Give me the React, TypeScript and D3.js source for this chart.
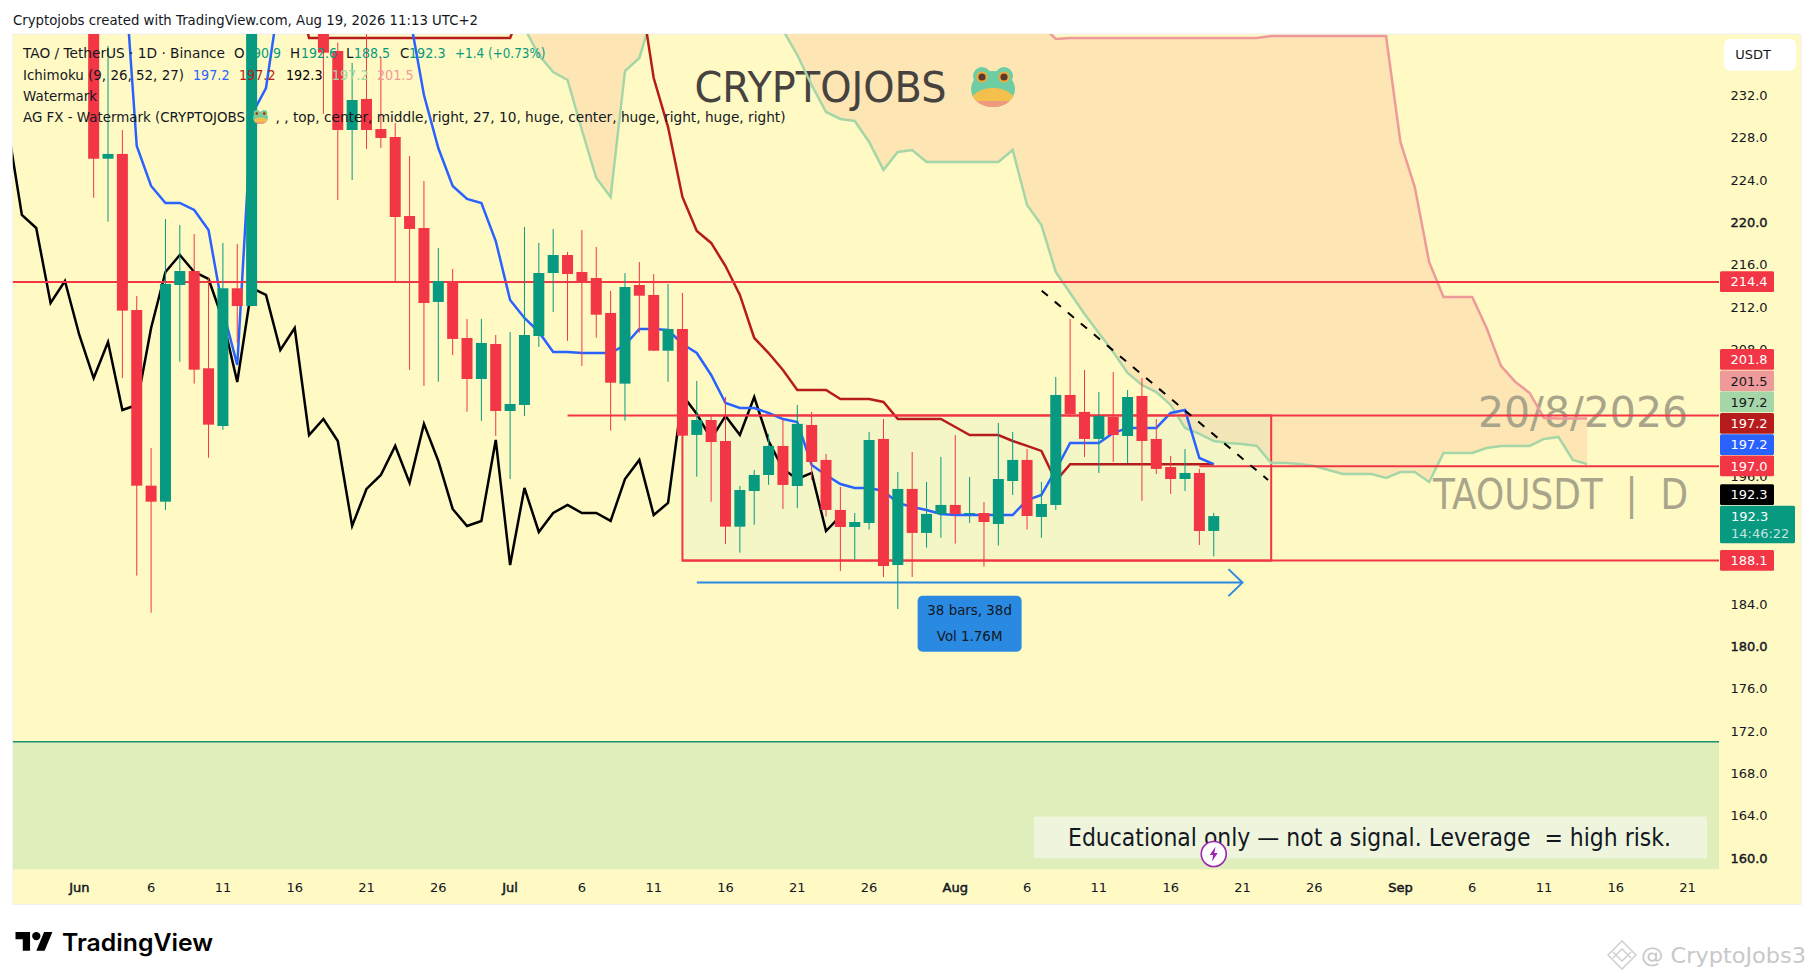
import * as d3 from 'd3';

const WIDTH = 1814;
const HEIGHT = 980;
// pane geometry, in px of the screenshot
const PANE = { left: 12.7, right: 1801, top: 34, bottom: 904.5 };
const PLOT = { right: 1719, bottom: 869.5 };

const RED = '#F23645';
const GREEN = '#089981';
const BLUE = '#2962FF';
const DARK_RED = '#B71C1C';
const SPAN_A = '#A5D6A7';
const SPAN_B = '#EF9A9A';
const INK = '#131722';
const RULER = '#2A8AE2';
const FONT = "'DejaVu Sans', sans-serif";

// daily candles, first one is 2 Jun 2026. Jun 14-17 sit above the visible range.
const CANDLES_START = '2026-06-02';
const OPENS = [
  246, 226.03, 226.48, 211.75, 195.17, 193.66, 214.11, 215.43, 206.25, 200.8, 213.8, 212.13,
  246, 249, 250, 247,
  244, 236.2, 228.74, 231.67, 228.83, 228.08, 220.62, 219.49, 212.51, 214.49, 209.11, 205.24, 208.54,
  202.22, 202.79, 209.3, 215.24, 216.94, 215.34, 214.77, 211.47, 204.8, 214.11, 213.17, 207.91, 209.96,
  199.96, 201.37, 199.39, 191.3, 194.67, 196.18, 198.92, 195.14, 200.9, 197.6, 192.88, 191.27, 191.65,
  199.58, 187.68, 194.86, 190.71, 192.5, 193.35, 192.5, 192.59, 191.55, 195.61, 197.6, 192.22, 193.35,
  203.73, 202.13, 199.58, 201.65, 199.86, 203.64, 199.58, 196.93, 195.8, 196.37, 190.9,
];
const HIGHS = [
  250, 236.67, 228.74, 213.07, 198.73, 220.34, 219.77, 218.92, 214.77, 218.08, 217.98, 250,
  252, 254, 255, 252,
  246, 237, 235.06, 240, 235.63, 229.4, 226.29, 223.93, 217.6, 215.62, 210.9, 210.9, 209.39,
  209.68, 219.59, 218.08, 219.4, 217.23, 219.3, 217.7, 213.55, 215.24, 216.28, 215.15, 214.21, 213.36,
  205.05, 201.84, 203.54, 195.14, 196.65, 200.05, 201.44, 202.79, 202.13, 198.16, 195.05, 192.59, 200.24,
  201.46, 196.46, 198.35, 195.52, 197.88, 199.95, 195.99, 193.63, 201.09, 200.24, 198.63, 195.52, 205.43,
  210.9, 206.09, 204.01, 205.9, 204.2, 205.33, 201.46, 197.97, 198.63, 196.75, 192.6,
];
const LOWS = [
  222.35, 220.09, 205.33, 186.68, 183.18, 192.88, 206.87, 204.8, 197.81, 200.43, 208.64, 212.1,
  241, 245, 244, 241,
  230.25, 222.13, 224.02, 226.95, 227.04, 214.3, 206.09, 204.58, 204.98, 207.5, 202.15, 201.28, 199.86,
  195.8, 201.75, 208.26, 211.56, 208.83, 206.47, 209.14, 200.36, 201.3, 209.61, 207.88, 204.98, 199.86,
  196.02, 193.66, 189.67, 188.85, 191.49, 195.24, 192.97, 193.06, 195.71, 192.25, 187.12, 188.16, 191.03,
  186.55, 183.53, 186.55, 189.32, 190.26, 189.7, 191.65, 187.53, 189.51, 194.29, 191.03, 190.26, 192.88,
  201.65, 197.88, 196.37, 197.41, 197.31, 193.73, 196.27, 194.39, 194.67, 189.57, 188.5,
];
const CLOSES = [
  226.03, 226.48, 211.69, 195.17, 193.66, 214.21, 215.43, 206.12, 200.93, 213.8, 212.13, 246,
  249, 250, 247, 244,
  236.04, 228.74, 231.57, 228.74, 227.99, 220.53, 219.4, 212.41, 214.49, 209.02, 205.24, 208.64, 202.22,
  202.88, 209.39, 215.24, 216.94, 215.15, 214.49, 211.31, 204.89, 213.92, 213.1, 207.91, 209.96, 199.89,
  201.37, 199.29, 191.3, 194.76, 196.18, 198.92, 195.24, 201, 197.41, 192.88, 191.27, 191.74, 199.48,
  187.59, 194.86, 190.71, 192.5, 193.35, 192.5, 192.59, 191.74, 195.8, 197.6, 192.31, 193.44, 203.73,
  201.94, 199.58, 201.75, 199.95, 203.54, 199.39, 196.75, 195.8, 196.37, 190.89, 192.3,
];

// ichimoku lines
const TENKAN_START = '2026-06-04';
const TENKAN = [
  246.67, 227.23, 223.46, 221.85, 221.85, 221.19, 219.3, 211.75, 206.56, 230.16, 232.7, 241.86,
  255, 255, 255, 255, 255, 255, 255, 255,
  239.59, 232.04, 227.04, 223.46, 222.23, 221.85, 218.26, 212.7, 211, 209.68, 207.79, 207.79, 207.69,
  207.69, 207.69, 208.45, 209.96, 209.96, 209.86, 208.54, 207.69, 205.62, 202.97, 202.5, 202.5, 202.03,
  201.46, 201.18, 197.12, 196.18, 195.33, 194.95, 194.95, 194.67, 193.54, 193.16, 192.88, 192.5, 192.4,
  192.4, 192.4, 192.4, 192.4, 193.82, 194.29, 196.65, 199.2, 199.2, 199.2, 200.14, 200.62, 200.62, 200.62,
  202.03, 202.31, 197.78, 197.2,
];
const KIJUN_START = '2026-06-16';
const KIJUN = [
  242.9, 237.42, 237.42, 237.42, 237.42, 237.42, 237.42, 237.42, 237.42, 237.42, 237.42, 237.42, 237.42,
  237.42, 237.42, 237.42, 241.01, 250, 250, 250, 250, 250, 250, 250, 242.43, 233.65, 229.02, 222.42,
  219.21, 218.08, 215.9, 213.17, 209.11, 207.69, 206.09, 204.2, 204.2, 204.2, 203.35, 203.35, 203.35,
  203.07, 201.46, 201.46, 201.46, 201.46, 200.71, 199.95, 199.95, 199.95, 199.39, 198.92, 198.45, 195.61,
  197.2, 197.2, 197.2, 197.2, 197.2, 197.2, 197.2, 197.2, 197.2, 197.2, 197.2,
];
const CHIKOU_START = '2026-05-27';
const CHIKOU = [
  229.21, 220.72, 219.49, 212.41, 214.49, 209.39, 205.33, 208.73, 202.31, 202.79, 210.05, 215.34, 216.94,
  215.34, 214.68, 210.81, 204.96, 213.83, 213.17, 207.98, 210.05, 199.95, 201.46, 199.39, 191.37, 194.86,
  196.18, 198.92, 195.43, 201, 197.5, 192.97, 191.37, 191.84, 199.48, 187.68, 194.95, 190.8, 192.59,
  193.35, 192.59, 192.59, 191.84, 195.8, 197.6, 192.4, 193.54, 203.73, 201.94, 199.58, 201.75, 199.95,
  203.54, 199.39, 196.75, 195.8, 196.37, 190.89, 192.3,
];
// both spans start 1 Jul; they leave the visible range at the top for long stretches
const SPAN_START = '2026-07-01';
const SPAN_A_VALUES = [
  241.95, 238.37, 235.82, 234.21, 233.46, 228.74, 224.21, 222.42, 234.31, 235.54, 240.07,
  255, 255, 255, 255, 255, 255, 255,
  242.9, 238.18, 235.82, 232.99, 230.44, 229.78, 229.59, 227.61, 224.97, 226.66, 226.85, 225.72,
  225.72, 225.72, 225.72, 225.72, 225.72, 226.85, 221.66, 219.77, 215.34, 213.36, 211.37, 209.58, 207.79,
  205.81, 204.67, 204.01, 202.79, 200.62, 200.05, 199.39, 199.2, 199.1, 198.92, 197.31, 197.31, 197.22,
  197.03, 196.65, 196.27, 196.27, 196.27, 195.9, 196.46, 196.46, 195.52, 198.26, 198.26, 198.26, 198.73,
  198.92, 198.92, 198.92, 199.58, 199.77, 197.6, 197.2,
];
const SPAN_B_VALUES = [
  248, 248, 248, 248, 248, 248, 248, 248, 248, 248, 248, 248, 248, 248, 248, 248, 248, 248, 248,
  248, 248, 248, 248, 248, 248, 248, 248, 248, 248, 248, 248, 248, 248, 248, 248, 248, 248,
  238.65, 237.33, 237.42, 237.42, 237.42, 237.42, 237.42, 237.42, 237.42, 237.42, 237.42, 237.42, 237.42,
  237.42, 237.42, 237.42, 237.61, 237.61, 237.61, 237.61, 237.61, 237.61, 237.61, 237.61, 237.61, 227.61, 223.36,
  216.28, 212.98, 212.98, 212.98, 210.05, 206.47, 204.96, 203.92, 201.56, 201.5, 201.5, 201.5,
];

// drawings
const LEVEL_PRICES = [214.4, 201.8, 197.0, 188.1];
const LEVEL_STARTS = [null, '2026-07-05', '2026-08-18', '2026-07-13'];
const RANGE_BOX_DATES = ['2026-07-13', '2026-08-23'];
const RANGE_BOX_PRICES = [201.8, 188.1];
const RULER_DATES = ['2026-07-14', '2026-08-21'];
const RULER_PRICE = 186.02;
const TREND_DATES = ['2026-08-07T00:30:00Z', '2026-08-22T18:45:00Z'];
const TREND_PRICES = [213.57, 195.71];
const DEMAND_TOP = 171;

// axes: 204, 200, 192 and 188 are hidden behind the price labels in the picture
const PRICE_TICKS = [232, 228, 224, 220, 216, 212, 208, 196, 184, 180, 176, 172, 168, 164, 160];
const STRONG_PRICE_TICKS = [220, 180, 160];
const TIME_TICK_DATES = [
  '2026-06-01', '2026-06-06', '2026-06-11', '2026-06-16', '2026-06-21', '2026-06-26',
  '2026-07-01', '2026-07-06', '2026-07-11', '2026-07-16', '2026-07-21', '2026-07-26',
  '2026-08-01', '2026-08-06', '2026-08-11', '2026-08-16', '2026-08-21', '2026-08-26',
  '2026-09-01', '2026-09-06', '2026-09-11', '2026-09-16', '2026-09-21',
];
const MONTH_NAMES = ['Jun', 'Jul', 'Aug', 'Sep'];

const AXIS_LABEL_TEXTS = ['214.4', '201.8', '201.5', '197.2', '197.2', '197.2', '197.0', '192.3', '188.1'];
const AXIS_LABEL_FILLS = [RED, RED, SPAN_B, SPAN_A, DARK_RED, BLUE, RED, '#000000', RED];
const AXIS_LABEL_INKS = ['#fff', '#fff', INK, INK, '#fff', '#fff', '#fff', '#fff', '#fff'];
const AXIS_LABEL_TOPS = [271.3, 349, 370.5, 391.5, 413, 434.2, 455.5, 484.3, 550];

const day = (s: string) => {
  const t = s.includes('T') ? s : `${s}T00:00:00Z`;
  return new Date(t);
};

const xScale = d3.scaleUtc().domain([day('2026-06-01'), day('2026-09-21')]).range([79.3, 79.3 + 112 * 14.36]);
const yScale = d3.scaleLinear().domain([160, 232]).range([858.3, 95.46]);

const dated = (start: string, values: number[]) =>
  values.map((v, i) => ({ date: d3.utcDay.offset(day(start), i), value: v }));

const linePath = d3
  .line<{ date: Date; value: number }>()
  .x((d) => xScale(d.date))
  .y((d) => yScale(d.value));

const cloudPath = d3
  .area<{ date: Date; a: number; b: number }>()
  .x((d) => xScale(d.date))
  .y0((d) => yScale(d.b))
  .y1((d) => yScale(d.a));

const Frog = ({ x, y, w, h }: { x: number; y: number; w: number; h: number }) => (
  <g transform={`translate(${x},${y}) scale(${w / 44},${h / 40})`}>
    <clipPath id={`frog-${w}`}>
      <ellipse cx={22} cy={23} rx={22} ry={17} />
    </clipPath>
    <ellipse cx={22} cy={22} rx={22} ry={18} fill="#6FCDA4" />
    <circle cx={11} cy={9} r={9} fill="#6FCDA4" />
    <circle cx={33} cy={9} r={9} fill="#6FCDA4" />
    <circle cx={11} cy={10} r={5.6} fill="#F2A93B" />
    <circle cx={33} cy={10} r={5.6} fill="#F2A93B" />
    <circle cx={11} cy={10} r={3.6} fill="#5A3A2E" />
    <circle cx={33} cy={10} r={3.6} fill="#5A3A2E" />
    <g clipPath={`url(#frog-${w})`}>
      <ellipse cx={22} cy={38} rx={24} ry={17} fill="#F4C04C" />
      <rect x={0} y={34} width={44} height={6} fill="#EF9A7E" />
    </g>
  </g>
);

const LegendText = ({
  x,
  y,
  fill = INK,
  length,
  children,
}: {
  x: number;
  y: number;
  fill?: string;
  length?: number;
  children: any;
}) => (
  <text
    x={x}
    y={y}
    fill={fill}
    fontSize={13.4}
    fontFamily={FONT}
    dominantBaseline="central"
    xmlSpace="preserve"
    textLength={length}
    lengthAdjust={length ? 'spacingAndGlyphs' : undefined}
  >
    {children}
  </text>
);

const App = () => {
  const candles = OPENS.map((open, i) => ({
    date: d3.utcDay.offset(day(CANDLES_START), i),
    open,
    high: HIGHS[i],
    low: LOWS[i],
    close: CLOSES[i],
  }));
  const spanA = dated(SPAN_START, SPAN_A_VALUES);
  const spanB = dated(SPAN_START, SPAN_B_VALUES);
  const cloud = spanA.map((d, i) => ({ date: d.date, a: d.value, b: spanB[i].value }));

  const bodyWidth = 11;
  const rightEdge = PLOT.right;
  const boxX0 = xScale(day(RANGE_BOX_DATES[0]));
  const boxX1 = xScale(day(RANGE_BOX_DATES[1]));
  const rulerX0 = xScale(day(RULER_DATES[0]));
  const rulerX1 = xScale(day(RULER_DATES[1]));
  const rulerY = yScale(RULER_PRICE);
  const rulerMid = (rulerX0 + rulerX1) / 2;

  return (
    <svg
      width={WIDTH}
      height={HEIGHT}
      style={{ position: 'absolute', left: 0, top: 0, display: 'block', background: '#fff' }}
    >
      <defs>
        <clipPath id="plot">
          <rect x={PANE.left} y={PANE.top} width={rightEdge - PANE.left} height={PLOT.bottom - PANE.top} />
        </clipPath>
      </defs>

      <text x={13} y={20} fontSize={13.2} fontFamily={FONT} fill={INK} dominantBaseline="central" textLength={465} lengthAdjust="spacingAndGlyphs">
        Cryptojobs created with TradingView.com, Aug 19, 2026 11:13 UTC+2
      </text>

      <rect
        x={PANE.left}
        y={PANE.top}
        width={PANE.right - PANE.left}
        height={PANE.bottom - PANE.top}
        fill="#FFF9C4"
        stroke="#F0F0F0"
      />

      <g clipPath="url(#plot)">
        <rect
          x={PANE.left}
          y={yScale(DEMAND_TOP)}
          width={rightEdge - PANE.left}
          height={PLOT.bottom - yScale(DEMAND_TOP)}
          fill="#E0EEBC"
        />
        <line x1={PANE.left} x2={rightEdge} y1={yScale(DEMAND_TOP)} y2={yScale(DEMAND_TOP)} stroke="#1F8F6F" strokeWidth={1.5} />

        <path d={cloudPath(cloud) ?? ''} fill="#FDE5B4" />

        <text x={694.5} y={87.5} fontSize={42} fontFamily={FONT} fill="#46423F" dominantBaseline="central" textLength={252} lengthAdjust="spacingAndGlyphs">
          CRYPTOJOBS
        </text>
        <text x={1478} y={412} fontSize={43} fontFamily={FONT} fill="#A9A58B" dominantBaseline="central" textLength={210} lengthAdjust="spacingAndGlyphs">
          20/8/2026
        </text>
        <text x={1433} y={494} fontSize={42} fontFamily={FONT} fill="#A9A58B" dominantBaseline="central" xmlSpace="preserve" textLength={255} lengthAdjust="spacingAndGlyphs">
          TAOUSDT  |  D
        </text>

        <rect
          x={boxX0}
          y={yScale(RANGE_BOX_PRICES[0])}
          width={boxX1 - boxX0}
          height={yScale(RANGE_BOX_PRICES[1]) - yScale(RANGE_BOX_PRICES[0])}
          fill="#C8EACE"
          fillOpacity={0.2}
          stroke={RED}
          strokeWidth={2}
        />

        <path d={linePath(spanA) ?? ''} fill="none" stroke={SPAN_A} strokeWidth={2.5} />
        <path d={linePath(spanB) ?? ''} fill="none" stroke={SPAN_B} strokeWidth={2.5} />
        <path d={linePath(dated(CHIKOU_START, CHIKOU)) ?? ''} fill="none" stroke="#000" strokeWidth={2.5} />
        <path d={linePath(dated(KIJUN_START, KIJUN)) ?? ''} fill="none" stroke={DARK_RED} strokeWidth={2.5} />
        <path d={linePath(dated(TENKAN_START, TENKAN)) ?? ''} fill="none" stroke={BLUE} strokeWidth={2.5} />

        {LEVEL_PRICES.map((p, i) => {
          const start = LEVEL_STARTS[i];
          return (
            <line
              key={p}
              x1={start ? xScale(day(start)) : PANE.left}
              x2={rightEdge}
              y1={yScale(p)}
              y2={yScale(p)}
              stroke={RED}
              strokeWidth={2}
            />
          );
        })}

        <line
          x1={xScale(day(TREND_DATES[0]))}
          y1={yScale(TREND_PRICES[0])}
          x2={xScale(day(TREND_DATES[1]))}
          y2={yScale(TREND_PRICES[1])}
          stroke="#000"
          strokeWidth={2}
          strokeDasharray="8 9"
        />

        <line x1={rulerX0} x2={rulerX1} y1={rulerY} y2={rulerY} stroke={RULER} strokeWidth={2} />
        <path
          d={`M${rulerX1 - 14},${rulerY - 13.5}L${rulerX1},${rulerY}L${rulerX1 - 14},${rulerY + 13.5}`}
          fill="none"
          stroke={RULER}
          strokeWidth={2}
        />

        {candles.map((c, i) => {
          const x = xScale(c.date);
          const color = c.close >= c.open ? GREEN : RED;
          const top = yScale(Math.max(c.open, c.close));
          const bottom = yScale(Math.min(c.open, c.close));
          return (
            <g key={i}>
              <line x1={x} x2={x} y1={yScale(c.high)} y2={yScale(c.low)} stroke={color} strokeWidth={1} />
              <rect x={x - bodyWidth / 2} y={top} width={bodyWidth} height={Math.max(bottom - top, 1)} fill={color} />
            </g>
          );
        })}

        <rect x={rulerMid - 52} y={595.7} width={104} height={56} rx={5} fill={RULER} />
        <text x={rulerMid} y={610.7} textAnchor="middle" dominantBaseline="central" fontSize={13.4} fontFamily={FONT} fill={INK}>
          38 bars, 38d
        </text>
        <text x={rulerMid} y={636.7} textAnchor="middle" dominantBaseline="central" fontSize={13.4} fontFamily={FONT} fill={INK}>
          Vol 1.76M
        </text>

        <rect x={1034} y={816.7} width={673} height={41.5} fill="#EEF5DC" />
        <text x={1068} y={838} fontSize={24} fontFamily={FONT} fill={INK} dominantBaseline="central" xmlSpace="preserve" textLength={603} lengthAdjust="spacingAndGlyphs">
          Educational only — not a signal. Leverage  = high risk.
        </text>
      </g>

      {/* lightning mark for the latest bar */}
      <circle cx={xScale(day('2026-08-19'))} cy={854} r={12.5} fill="#fff" stroke="#9C27B0" strokeWidth={1.6} />
      <path
        transform={`translate(${xScale(day('2026-08-19'))},854)`}
        d="M1.8,-7.5L-4,1L-0.6,1L-1.8,7.5L4,-1L0.6,-1Z"
        fill="#9C27B0"
      />

      {/* legend */}
      <LegendText x={23} y={53.5} length={202}>TAO / TetherUS · 1D · Binance</LegendText>
      <LegendText x={234} y={53.5}>O</LegendText>
      <LegendText x={245} y={53.5} fill={GREEN} length={36}>190.9</LegendText>
      <LegendText x={290} y={53.5}>H</LegendText>
      <LegendText x={301} y={53.5} fill={GREEN} length={36}>192.6</LegendText>
      <LegendText x={346} y={53.5}>L</LegendText>
      <LegendText x={354} y={53.5} fill={GREEN} length={36}>188.5</LegendText>
      <LegendText x={400} y={53.5}>C</LegendText>
      <LegendText x={409} y={53.5} fill={GREEN} length={36.5}>192.3</LegendText>
      <LegendText x={455} y={53.5} fill={GREEN} length={90.5}>+1.4 (+0.73%)</LegendText>
      <LegendText x={23} y={75} length={161}>Ichimoku (9, 26, 52, 27)</LegendText>
      <LegendText x={193} y={75} fill={BLUE} length={36.5}>197.2</LegendText>
      <LegendText x={239} y={75} fill={DARK_RED} length={36.5}>197.2</LegendText>
      <LegendText x={286} y={75} fill="#000" length={36.5}>192.3</LegendText>
      <LegendText x={332} y={75} fill={SPAN_A} length={36.5}>197.2</LegendText>
      <LegendText x={377} y={75} fill={SPAN_B} length={36.5}>201.5</LegendText>
      <LegendText x={23} y={96} length={74}>Watermark</LegendText>
      <LegendText x={23} y={117} length={222}>AG FX - Watermark (CRYPTOJOBS</LegendText>
      <Frog x={253} y={110} w={15} h={14} />
      <LegendText x={275.5} y={117} length={510}>, , top, center, middle, right, 27, 10, huge, center, huge, right, huge, right)</LegendText>

      <Frog x={971} y={67} w={44} h={40} />

      {/* price axis */}
      {PRICE_TICKS.map((t) => (
        <text
          key={t}
          x={1749}
          y={yScale(t)}
          textAnchor="middle"
          dominantBaseline="central"
          fontSize={13}
          fontFamily={FONT}
          fill={INK}
          stroke={STRONG_PRICE_TICKS.includes(t) ? INK : 'none'}
          strokeWidth={0.4}
        >
          {t.toFixed(1)}
        </text>
      ))}
      {AXIS_LABEL_TEXTS.map((text, i) => (
        <g key={i}>
          <rect x={1720} y={AXIS_LABEL_TOPS[i]} width={54} height={20.8} rx={1.5} fill={AXIS_LABEL_FILLS[i]} />
          <text
            x={1749}
            y={AXIS_LABEL_TOPS[i] + 10.6}
            textAnchor="middle"
            dominantBaseline="central"
            fontSize={13}
            fontFamily={FONT}
            fill={AXIS_LABEL_INKS[i]}
          >
            {text}
          </text>
        </g>
      ))}
      <rect x={1720} y={505.7} width={75} height={37.6} rx={1.5} fill={GREEN} />
      <text x={1731} y={516} dominantBaseline="central" fontSize={13} fontFamily={FONT} fill="#fff">192.3</text>
      <text x={1731} y={533} dominantBaseline="central" fontSize={13} fontFamily={FONT} fill="#fff" fillOpacity={0.75}>14:46:22</text>

      <rect x={1724} y={39} width={72} height={31.7} rx={6} fill="#fff" />
      <text x={1753} y={54} textAnchor="middle" dominantBaseline="central" fontSize={13} fontFamily={FONT} fill={INK}>USDT</text>

      {/* time axis */}
      {TIME_TICK_DATES.map((s) => {
        const d = day(s);
        const isMonth = d.getUTCDate() === 1;
        return (
          <text
            key={s}
            x={xScale(d)}
            y={887.5}
            textAnchor="middle"
            dominantBaseline="central"
            fontSize={13}
            fontFamily={FONT}
            fill={INK}
            stroke={isMonth ? INK : 'none'}
            strokeWidth={0.5}
          >
            {isMonth ? MONTH_NAMES[d.getUTCMonth() - 5] : d.getUTCDate()}
          </text>
        );
      })}

      {/* footer */}
      <g transform="translate(15.5,927.8) scale(1.04)" fill="#000">
        <path d="M14 22H7V11H0V4h14v18zM28 22h-8l7.5-18h8L28 22z" />
        <circle cx={20} cy={8} r={4} />
      </g>
      <text x={62} y={942} fontSize={24} fontFamily="Inter, sans-serif" fontWeight={600} fill="#000" dominantBaseline="central" textLength={151} lengthAdjust="spacingAndGlyphs">
        TradingView
      </text>

      <g transform="translate(1622,955)" fill="none" stroke="#D2D2D2" strokeWidth={1.6}>
        <path d="M0,-14L14,0L0,14L-14,0Z" />
        <path d="M0,-6L6,0L0,6L-6,0Z" />
        <path d="M-9,-3L-6,0L-9,3M9,-3L6,0L9,3" />
      </g>
      <text x={1641} y={955} fontSize={21.5} fontFamily={FONT} fill="#C8C8C8" dominantBaseline="central" textLength={165} lengthAdjust="spacingAndGlyphs">
        @ CryptoJobs3
      </text>
    </svg>
  );
};

export default App;
